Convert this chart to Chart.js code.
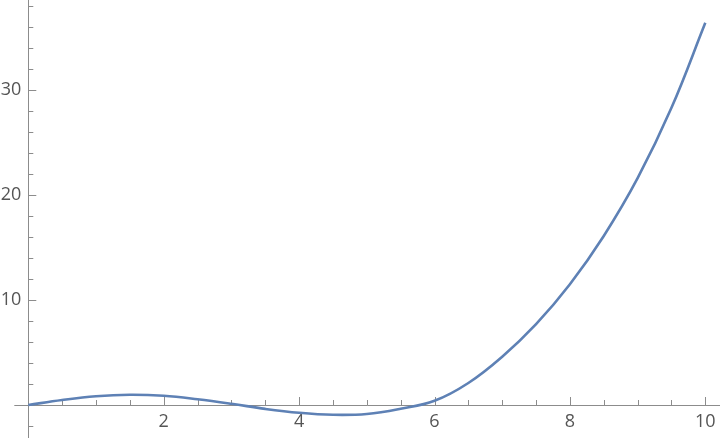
<!DOCTYPE html>
<html>
<head>
<meta charset="utf-8">
<script src="https://cdn.jsdelivr.net/npm/chart.js@4"></script>
<style>
html,body{margin:0;padding:0;background:#fff;}
#wrap{width:720px;height:438px;}
</style>
</head>
<body>
<div id="wrap"><canvas id="c" width="720" height="438"></canvas></div>
<script>
// Data
const xValues = [0, 0.5, 1, 1.5, 2, 2.5, 3, 3.5, 4, 4.5, 5, 5.5, 6, 6.5, 7, 7.5, 8, 8.5, 9, 9.5, 10];
const yValues = [0, 0.48, 0.84, 0.98, 0.88, 0.55, 0.12, -0.37, -0.74, -0.93, -0.85, -0.35, 0.4, 2.1, 4.6, 7.7, 11.5, 16.1, 21.6, 28.3, 36.4];
const xTickLabels = [2, 4, 6, 8, 10];
const yTickLabels = [10, 20, 30];
const xMinorStep = 0.5;
const yMinorStep = 2;

const points = xValues.map((x, i) => ({x: x, y: yValues[i]}));

const axesPlugin = {
  id: 'mmaAxes',
  beforeDatasetsDraw(chart) {
    const ctx = chart.ctx;
    const xs = chart.scales.x, ys = chart.scales.y;
    const x0 = xs.getPixelForValue(0), y0 = ys.getPixelForValue(0);
    const area = chart.chartArea;
    ctx.save();
    ctx.strokeStyle = '#8c8c8c';
    ctx.lineWidth = 1;
    ctx.beginPath();
    ctx.moveTo(x0 - 14, Math.round(y0) + 0.5);
    ctx.lineTo(area.right, Math.round(y0) + 0.5);
    ctx.moveTo(Math.round(x0) + 0.5, area.top);
    ctx.lineTo(Math.round(x0) + 0.5, area.bottom);
    ctx.stroke();
    ctx.beginPath();
    for (let v = xMinorStep; v <= xs.max; v += xMinorStep) {
      const px = Math.round(xs.getPixelForValue(v)) + 0.5;
      const major = xTickLabels.includes(Math.round(v * 100) / 100);
      ctx.moveTo(px, y0);
      ctx.lineTo(px, y0 - (major ? 8 : 5));
    }
    for (let v = -yMinorStep; v <= ys.max; v += yMinorStep) {
      if (v === 0) continue;
      const py = Math.round(ys.getPixelForValue(v)) + 0.5;
      const major = yTickLabels.includes(v);
      ctx.moveTo(x0, py);
      ctx.lineTo(x0 + (major ? 8 : 5), py);
    }
    ctx.stroke();
    ctx.fillStyle = '#555555';
    ctx.font = '18px "Open Sans", "DejaVu Sans", sans-serif';
    ctx.textAlign = 'center';
    ctx.textBaseline = 'middle';
    xTickLabels.forEach(v => {
      ctx.fillText(String(v), xs.getPixelForValue(v), y0 + 17);
    });
    ctx.textAlign = 'right';
    yTickLabels.forEach(v => {
      ctx.fillText(String(v), x0 - 7, ys.getPixelForValue(v));
    });
    ctx.restore();
  }
};

new Chart(document.getElementById('c'), {
  type: 'line',
  data: {
    datasets: [{
      data: points,
      borderColor: '#5e81b5',
      borderWidth: 2.6,
      pointRadius: 0,
      fill: false,
      tension: 0.4
    }]
  },
  options: {
    responsive: false,
    animation: false,
    devicePixelRatio: 1,
    layout: {padding: 0},
    plugins: {legend: {display: false}, tooltip: {enabled: false}},
    scales: {
      x: {type: 'linear', min: -0.418, max: 10.217, display: false},
      y: {type: 'linear', min: -3.14, max: 38.57, display: false}
    }
  },
  plugins: [axesPlugin]
});
</script>
</body>
</html>
